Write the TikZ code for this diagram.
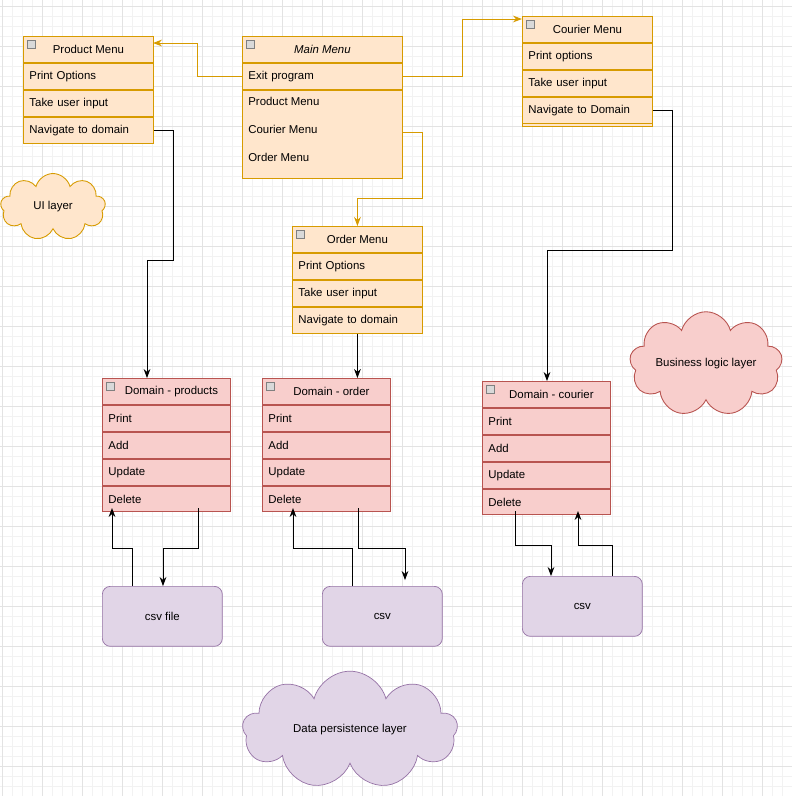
\documentclass[tikz,border=0pt]{standalone}
\usepackage{fontspec}
\setmainfont{Liberation Sans}
\usepackage{xcolor}
\usetikzlibrary{arrows.meta, positioning, shapes.symbols}

\definecolor{uifill}{HTML}{FFE6CC}
\definecolor{uiline}{HTML}{D79B00}
\definecolor{bzfill}{HTML}{F8CECC}
\definecolor{bzline}{HTML}{B85450}
\definecolor{dpfill}{HTML}{E1D5E7}
\definecolor{dpline}{HTML}{9673A6}

\tikzset{
  every node/.style={font=\fontsize{6.5}{8}\selectfont},
  ui/.style={draw=uiline, fill=uifill, line width=0.5pt},
  bz/.style={draw=bzline, fill=bzfill, line width=0.5pt},
  head/.style={anchor=north west, minimum height=0.52cm, inner sep=0pt},
  row/.style={anchor=north west, minimum height=0.52cm, text width=#1, inner xsep=0.12cm, inner ysep=0pt, align=left},
  minus/.style={draw=gray, fill=gray!30, minimum size=0.16cm, inner sep=0pt},
  uiarr/.style={draw=uiline, line width=0.5pt, -{Stealth[length=1.8mm]}},
  bkarr/.style={draw=black, line width=0.5pt, -{Stealth[length=1.8mm]}},
  store/.style={draw=dpline, fill=dpfill, rounded corners=0.16cm, minimum width=2.4cm, minimum height=1.2cm, anchor=north west},
  layer/.style={shape=cloud, cloud puffs=9, aspect=2, inner sep=0pt}
}

\begin{document}
\begin{tikzpicture}[x=0.02cm, y=-0.02cm]
	\useasboundingbox (0,0) rectangle (792,796);
	\fill[white] (0,0) rectangle (792,796);
	
	% Raster
	\foreach \gx in {2,12,...,792} \draw[black!5] (\gx,0) -- (\gx,796);
	\foreach \gy in {6,16,...,796} \draw[black!5] (0,\gy) -- (792,\gy);
	\foreach \gx in {2,42,...,792} \draw[black!11] (\gx,0) -- (\gx,796);
	\foreach \gy in {6,46,...,796} \draw[black!11] (0,\gy) -- (792,\gy);
	
	% Product Menu
	\node[ui, head, minimum width=2.6cm] (pm) at (23,36) {Product Menu};
	\node[ui, row=2.36cm] (pmprint) at (pm.south west) {Print Options};
	\node[ui, row=2.36cm] (pminput) at (pmprint.south west) {Take user input};
	\node[ui, row=2.36cm] (pmnav) at (pminput.south west) {Navigate to domain};
	\node[minus] at (31,44) {};
	
	% Main Menu
	\node[ui, head, minimum width=3.2cm] (mm) at (242,36) {\itshape Main Menu};
	\node[ui, row=2.96cm] (mmexit) at (mm.south west) {Exit program};
	\node[ui, anchor=north west, minimum width=3.2cm, minimum height=1.76cm] (mmbody) at (mmexit.south west) {};
	\node[anchor=west, inner sep=0pt] (mmprod) at (248,101) {Product Menu};
	\node[anchor=west, inner sep=0pt] (mmcour) at (248,129) {Courier Menu};
	\node[anchor=west, inner sep=0pt] (mmord) at (248,157) {Order Menu};
	\node[minus] at (250,44) {};
	
	% Courier Menu
	\node[ui, anchor=north west, minimum width=2.6cm, minimum height=2.2cm] (cmbox) at (522,16) {};
	\node[ui, head, minimum width=2.6cm] (cm) at (522,16) {Courier Menu};
	\node[ui, row=2.36cm] (cmprint) at (cm.south west) {Print options};
	\node[ui, row=2.36cm] (cminput) at (cmprint.south west) {Take user input};
	\node[ui, row=2.36cm] (cmnav) at (cminput.south west) {Navigate to Domain};
	\node[minus] at (530,24) {};
	
	% Order Menu
	\node[ui, head, minimum width=2.6cm] (om) at (292,226) {Order Menu};
	\node[ui, row=2.36cm] (omprint) at (om.south west) {Print Options};
	\node[ui, row=2.36cm] (ominput) at (omprint.south west) {Take user input};
	\node[ui, row=2.36cm] (omnav) at (ominput.south west) {Navigate to domain};
	\node[minus] at (300,234) {};
	
	% Domain
	\foreach \dn/\dx/\dy/\dt in {dp/102/378/Domain - products, do/262/378/Domain - order, dc/482/381/Domain - courier}{
		\node[bz, head, minimum width=2.56cm] (\dn) at (\dx,\dy) {\hspace{0.2cm}\dt};
		\node[bz, row=2.32cm] (\dn print) at (\dn.south west) {Print};
		\node[bz, row=2.32cm] (\dn add) at (\dn print.south west) {Add};
		\node[bz, row=2.32cm] (\dn upd) at (\dn add.south west) {Update};
		\node[bz, row=2.32cm] (\dn del) at (\dn upd.south west) {Delete};
		\node[minus] at (\dx+8,\dy+8) {};
	}
	
	% Speicher
	\node[store] (csvp) at (102,586) {csv file};
	\node[store] (csvo) at (322,586) {csv};
	\node[store] (csvc) at (522,576) {csv};
	
	% Schichten
	\node[layer, ui, minimum width=2.1cm, minimum height=1.34cm] (uil) at (53,207) {UI layer};
	\node[layer, bz, minimum width=2.95cm, minimum height=1.6cm] (bzl) at (706,364) {Business logic layer};
	\node[layer, draw=dpline, fill=dpfill, minimum width=4.3cm, minimum height=1.65cm] (dpl) at (350,730) {Data persistence layer};
	
	% Menue-Pfeile
	\coordinate (pmin) at (153,43);
	\coordinate (cmin) at (522,19);
	\draw[uiarr] (mmexit.west) -| (197,43) -- (pmin);
	\draw[uiarr] (mmexit.east) -| (462,19) -- (cmin);
	\draw[uiarr] (402,132) -| (422,198) -| (om.north);
	
	% Navigation
	\draw[bkarr] (pmnav.east) -| (173,260) -| (147,378);
	\draw[bkarr] (omnav.south) -- (do.north -| omnav.south);
	\draw[bkarr] (cmnav.east) -| (672,250) -| (547,381);
	
	% Lesen und Schreiben
	\draw[bkarr] (132,586) |- (112,548) -- (112,508);
	\draw[bkarr] (198,508) |- (163,548) -- (163,586);
	\draw[bkarr] (352,586) |- (293,548) -- (293,508);
	\draw[bkarr] (358,508) |- (405,548) -- (405,580);
	\draw[bkarr] (515,511) |- (551,545) -- (551,576);
	\draw[bkarr] (612,576) |- (578,545) -- (578,511);
\end{tikzpicture}
\end{document}
